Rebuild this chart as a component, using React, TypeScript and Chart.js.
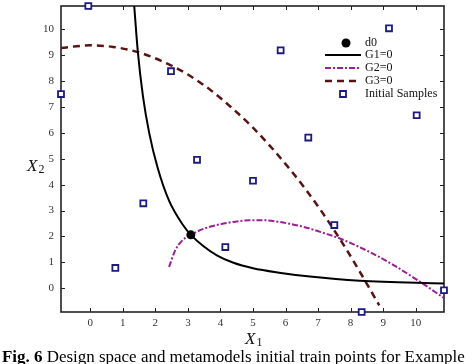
import React, { useEffect, useRef } from 'react';
import { Chart, registerables } from 'chart.js';

Chart.register(...registerables);

// ---- data ----
const xTickValues = [0, 1, 2, 3, 4, 5, 6, 7, 8, 9, 10];
const yTickValues = [0, 1, 2, 3, 4, 5, 6, 7, 8, 9, 10];
const xRange = [-0.9, 10.87];
const yRange = [-0.92, 10.9];

const sampleX = [-0.06, -0.9, 1.63, 0.77, 2.48, 5.85, 9.18, 10.03, 6.7, 3.28, 5.0, 7.5, 4.15, 8.34, 10.87];
const sampleY = [10.9, 7.5, 3.28, 0.78, 8.38, 9.19, 10.04, 6.68, 5.82, 4.96, 4.15, 2.44, 1.59, -0.92, -0.08];

const d0X = [3.09];
const d0Y = [2.06];

const g1X = [1.35, 1.46, 1.62, 1.81, 2.07, 2.42, 2.86, 3.09, 3.48, 3.89, 4.4, 5.0, 5.8, 6.75, 8.28, 10.87];
const g1Y = [10.9, 9.15, 7.4, 6.0, 4.65, 3.38, 2.42, 2.06, 1.62, 1.27, 0.98, 0.77, 0.6, 0.45, 0.29, 0.18];

const g2X = [2.42, 2.61, 2.81, 3.09, 3.5, 3.89, 4.4, 4.9, 5.32, 5.8, 6.54, 7.2, 7.67, 8.5, 9.2, 10.02, 10.87];
const g2Y = [0.82, 1.46, 1.82, 2.06, 2.3, 2.44, 2.56, 2.625, 2.625, 2.56, 2.37, 2.12, 1.92, 1.45, 0.98, 0.34, -0.38];

const g3X = [-0.9, 0, 0.7, 1.46, 2.2, 2.91, 3.73, 4.4, 4.96, 5.52, 6.13, 6.6, 7.16, 7.87, 8.28, 8.88];
const g3Y = [9.28, 9.38, 9.32, 9.12, 8.77, 8.32, 7.62, 6.91, 6.25, 5.5, 4.6, 3.85, 2.87, 1.5, 0.64, -0.66];

const legendLabels = ['d0', 'G1=0', 'G2=0', 'G3=0', 'Initial Samples'];
const captionBold = 'Fig. 6';
const captionRest = ' Design space and metamodels initial train points for Example';

const C_G1 = '#000000';
const C_G2 = '#9a1e96';
const C_G3 = '#5a1212';
const C_SAMPLE = '#1a1a80';
const SERIF = '"Liberation Serif", "DejaVu Serif", serif';

const zip = (xs: number[], ys: number[]) => xs.map((x, i) => ({ x, y: ys[i] }));

const decorPlugin = {
  id: 'decor',
  beforeDatasetsDraw(chart: any) {
    const { ctx, chartArea } = chart;
    const { left, right, top, bottom } = chartArea;
    const sx = chart.scales.x;
    const sy = chart.scales.y;
    ctx.save();
    ctx.strokeStyle = '#222';
    ctx.lineWidth = 1.6;
    ctx.strokeRect(left, top, right - left, bottom - top);
    ctx.lineWidth = 1;
    ctx.beginPath();
    sx.ticks.forEach((t: any) => {
      const px = Math.round(sx.getPixelForValue(t.value)) + 0.5;
      ctx.moveTo(px, bottom); ctx.lineTo(px, bottom - 4);
      ctx.moveTo(px, top); ctx.lineTo(px, top + 4);
    });
    sy.ticks.forEach((t: any) => {
      const py = Math.round(sy.getPixelForValue(t.value)) + 0.5;
      ctx.moveTo(left, py); ctx.lineTo(left + 4, py);
      ctx.moveTo(right, py); ctx.lineTo(right - 4, py);
    });
    ctx.stroke();
    ctx.restore();
  },
  afterDraw(chart: any) {
    const { ctx, chartArea } = chart;
    const { right } = chartArea;
    ctx.save();
    // legend
    const lx0 = right - 119;
    const lx1 = right - 83;
    const tx = right - 79;
    const rows = [43, 55, 68, 81, 94];
    ctx.font = `12px ${SERIF}`;
    ctx.fillStyle = '#111';
    ctx.textBaseline = 'middle';
    ctx.textAlign = 'left';
    // d0
    ctx.beginPath();
    ctx.arc(right - 98, rows[0], 4.5, 0, Math.PI * 2);
    ctx.fillStyle = '#000';
    ctx.fill();
    // G1
    ctx.lineWidth = 2;
    ctx.strokeStyle = C_G1;
    ctx.setLineDash([]);
    ctx.beginPath(); ctx.moveTo(lx0, rows[1]); ctx.lineTo(lx1, rows[1]); ctx.stroke();
    // G2
    ctx.strokeStyle = C_G2;
    ctx.setLineDash([6, 2, 2, 2]);
    ctx.beginPath(); ctx.moveTo(lx0, rows[2]); ctx.lineTo(lx1, rows[2]); ctx.stroke();
    // G3
    ctx.strokeStyle = C_G3;
    ctx.lineWidth = 2.5;
    ctx.setLineDash([7, 5]);
    ctx.beginPath(); ctx.moveTo(lx0, rows[3]); ctx.lineTo(lx1, rows[3]); ctx.stroke();
    ctx.setLineDash([]);
    // sample square
    ctx.strokeStyle = C_SAMPLE;
    ctx.lineWidth = 1.8;
    ctx.fillStyle = '#fff';
    ctx.beginPath(); ctx.rect(right - 104, rows[4] - 3, 6, 6); ctx.fill(); ctx.stroke();
    ctx.fillStyle = '#111';
    legendLabels.forEach((lab, i) => ctx.fillText(lab, tx, rows[i]));

    // axis titles
    ctx.textBaseline = 'alphabetic';
    ctx.fillStyle = '#111';
    ctx.font = `italic 17px ${SERIF}`;
    ctx.fillText('X', 245, 344);
    let w = ctx.measureText('X').width;
    ctx.font = `12px ${SERIF}`;
    ctx.fillText('1', 245 + w + 1, 346);

    ctx.font = `italic 17px ${SERIF}`;
    ctx.fillText('X', 27, 171);
    w = ctx.measureText('X').width;
    ctx.font = `12px ${SERIF}`;
    ctx.fillText('2', 27 + w + 1, 173);

    // caption
    const target = 463;
    let fs = 15;
    ctx.font = `bold ${fs}px ${SERIF}`;
    let wb = ctx.measureText(captionBold).width;
    ctx.font = `${fs}px ${SERIF}`;
    let wr = ctx.measureText(captionRest).width;
    fs = fs * target / (wb + wr);
    ctx.font = `bold ${fs}px ${SERIF}`;
    ctx.fillStyle = '#000';
    ctx.fillText(captionBold, 2, 362);
    wb = ctx.measureText(captionBold).width;
    ctx.font = `${fs}px ${SERIF}`;
    ctx.fillText(captionRest, 2 + wb, 362);
    ctx.restore();
  },
};

export default function App() {
  const ref = useRef<HTMLCanvasElement | null>(null);
  useEffect(() => {
    if (!ref.current) return;
    const tickFont = { family: SERIF, size: 11 };
    const chart = new Chart(ref.current, {
      type: 'scatter',
      data: {
        datasets: [
          {
            label: legendLabels[0],
            data: zip(d0X, d0Y),
            pointStyle: 'circle',
            pointRadius: 4.5,
            backgroundColor: '#000',
            borderColor: '#000',
            borderWidth: 0,
            clip: false,
          },
          {
            label: legendLabels[4],
            data: zip(sampleX, sampleY),
            pointStyle: 'rect',
            pointRadius: 4.2,
            backgroundColor: '#fff',
            borderColor: C_SAMPLE,
            borderWidth: 1.8,
            clip: false,
          },
          {
            label: legendLabels[1],
            data: zip(g1X, g1Y),
            showLine: true,
            pointRadius: 0,
            borderColor: C_G1,
            borderWidth: 2,
            cubicInterpolationMode: 'monotone',
          },
          {
            label: legendLabels[2],
            data: zip(g2X, g2Y),
            showLine: true,
            pointRadius: 0,
            borderColor: C_G2,
            borderWidth: 2,
            borderDash: [6, 2, 2, 2],
            cubicInterpolationMode: 'monotone',
          },
          {
            label: legendLabels[3],
            data: zip(g3X, g3Y),
            showLine: true,
            pointRadius: 0,
            borderColor: C_G3,
            borderWidth: 2.5,
            borderDash: [7, 5],
            cubicInterpolationMode: 'monotone',
          },
        ] as any,
      },
      options: {
        animation: false,
        responsive: false,
        events: [],
        layout: { padding: { left: 0, top: 5, right: 30, bottom: 0 } },
        plugins: { legend: { display: false }, tooltip: { enabled: false } },
        scales: {
          x: {
            type: 'linear',
            min: xRange[0],
            max: xRange[1],
            grid: { display: false, drawTicks: false },
            border: { display: false },
            afterBuildTicks: (s: any) => { s.ticks = xTickValues.map((v) => ({ value: v })); },
            afterFit: (s: any) => { s.height = 52; s.paddingLeft = 0; s.paddingRight = 0; },
            ticks: { font: tickFont, color: '#333', padding: 5, maxRotation: 0, includeBounds: false },
          },
          y: {
            type: 'linear',
            min: yRange[0],
            max: yRange[1],
            grid: { display: false, drawTicks: false },
            border: { display: false },
            afterBuildTicks: (s: any) => { s.ticks = yTickValues.map((v) => ({ value: v })); },
            afterFit: (s: any) => { s.width = 61; s.paddingTop = 0; s.paddingBottom = 0; },
            ticks: { font: tickFont, color: '#333', padding: 7, includeBounds: false },
          },
        },
      } as any,
      plugins: [decorPlugin],
    });
    return () => chart.destroy();
  }, []);
  return (
    <div style={{ position: 'fixed', left: 0, top: 0, width: 474, height: 364, background: '#fff', overflow: 'hidden' }}>
      <canvas ref={ref} width={474} height={364} style={{ display: 'block' }} />
    </div>
  );
}
